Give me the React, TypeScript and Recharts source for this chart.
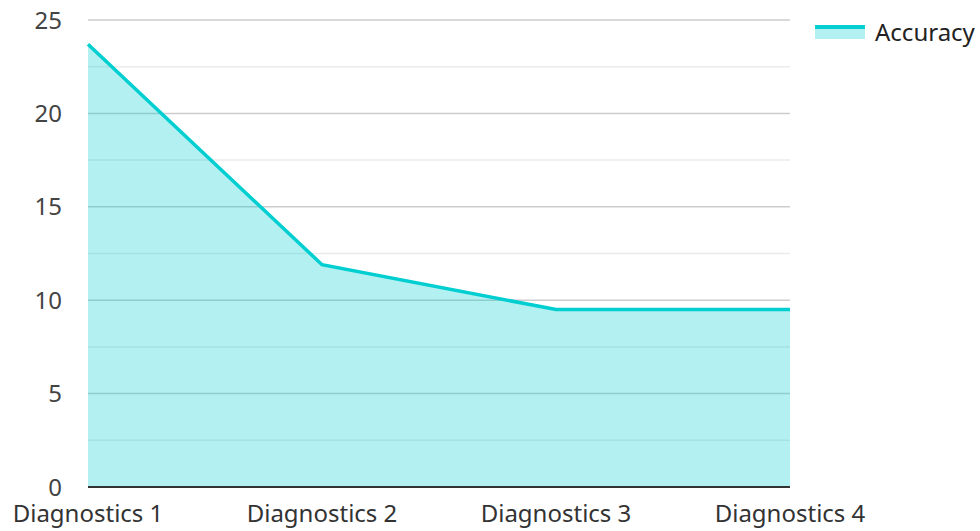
import React from "react";
import {
  AreaChart,
  Area,
  XAxis,
  YAxis,
  CartesianGrid,
} from "recharts";

const categories = ["Diagnostics 1", "Diagnostics 2", "Diagnostics 3", "Diagnostics 4"];
const accuracy = [23.7, 11.9, 9.5, 9.5];
const yTicks = [0, 2.5, 5, 7.5, 10, 12.5, 15, 17.5, 20, 22.5, 25];

const data = categories.map((name, i) => ({ name, accuracy: accuracy[i] }));

const LINE = "#00CED1";
const FONT = "'Noto Sans', 'Open Sans', sans-serif";

// major lines at whole 5s, lighter ones halfway between
const gridLine = (props: any) => {
  const major = props.index % 2 === 0;
  return (
    <line
      key={props.key}
      x1={props.x1}
      y1={props.y1}
      x2={props.x2}
      y2={props.y2}
      stroke={major ? "#cccccc" : "#ebebeb"}
      strokeWidth={1.5}
    />
  );
};

export default function App() {
  return (
    <div style={{ position: "fixed", top: 0, left: 0, width: 980, height: 531, background: "#fff", fontFamily: FONT }}>
      <AreaChart
        width={980}
        height={531}
        data={data}
        margin={{ top: 20, right: 190, left: 0, bottom: 0 }}
      >
        <CartesianGrid vertical={false} horizontal={gridLine} />
        <XAxis
          dataKey="name"
          axisLine={{ stroke: "#333", strokeWidth: 2 }}
          tickLine={false}
          tickSize={0}
          tickMargin={18}
          height={44}
          interval={0}
          tick={{ fill: "#333", fontSize: 24, fontFamily: FONT }}
        />
        <YAxis
          domain={[0, 25]}
          ticks={yTicks}
          interval={0}
          width={88}
          axisLine={false}
          tickLine={false}
          tickSize={0}
          tickMargin={26}
          tickFormatter={(v: number) => (v % 5 === 0 ? String(v) : "")}
          tick={{ fill: "#444", fontSize: 24, fontFamily: FONT }}
        />
        <Area
          type="linear"
          dataKey="accuracy"
          stroke={LINE}
          strokeWidth={3.5}
          fill={LINE}
          fillOpacity={0.3}
          dot={false}
          activeDot={false}
          isAnimationActive={false}
        />
      </AreaChart>
      <div style={{ position: "absolute", left: 815, top: 16, display: "flex", alignItems: "center" }}>
        <div style={{ width: 50, height: 14, display: "flex", flexDirection: "column" }}>
          <div style={{ height: 4, background: LINE }} />
          <div style={{ flex: 1, background: LINE, opacity: 0.3 }} />
        </div>
        <span style={{ marginLeft: 10, fontSize: 24, color: "#222", lineHeight: "32px" }}>Accuracy</span>
      </div>
    </div>
  );
}
